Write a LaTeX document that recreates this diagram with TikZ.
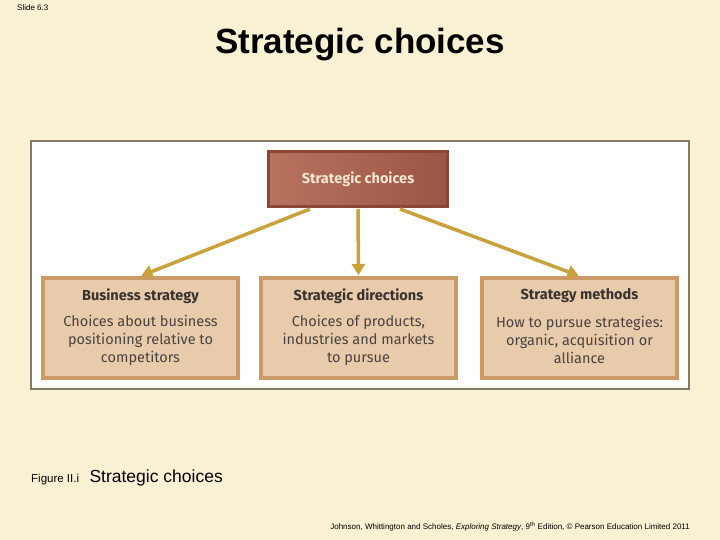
\documentclass[tikz,border=0pt]{standalone}
\usepackage{fontspec}
\setmainfont{Liberation Sans}
\newfontfamily\boxfont{Fira Sans}
\usetikzlibrary{positioning}
\usetikzlibrary{arrows.meta}
\definecolor{slidebg}{HTML}{F8F1D3}
\definecolor{panelline}{HTML}{857A68}
\definecolor{topleft}{HTML}{B8735F}
\definecolor{topright}{HTML}{9C5544}
\definecolor{topline}{HTML}{8C4636}
\definecolor{toptext}{HTML}{F6E6D2}
\definecolor{boxfill}{HTML}{E8CBAA}
\definecolor{boxline}{HTML}{CC9A66}
\definecolor{boxhead}{HTML}{3A3230}
\definecolor{boxtext}{HTML}{4A4240}
\definecolor{arrowcol}{HTML}{C9A23C}
\tikzstyle{topbox}=[draw=topline,left color=topleft,right color=topright,line width=3pt,minimum width=179pt,minimum height=55pt, inner sep=0pt, text=toptext, font=\boxfont\bfseries\fontsize{14.5}{17}\selectfont]
\tikzstyle{choice}=[draw=boxline,fill=boxfill,line width=4pt,minimum width=195pt,minimum height=100pt, inner sep=0pt]
\tikzstyle{head}=[text=boxhead, font=\boxfont\bfseries\fontsize{14.5}{17}\selectfont]
\tikzstyle{body}=[text=boxtext, align=center, font=\boxfont\fontsize{14.5}{18}\selectfont]
\tikzstyle{arr}=[arrowcol, line width=3.5pt, -{Triangle[length=11pt,width=13pt]}, shorten >=1pt]

\begin{document}
\begin{tikzpicture}[x=1pt,y=-1pt]
      \fill [slidebg] (0,0) rectangle (720,540);
      \useasboundingbox (0,0) rectangle (720,540);
      \node [anchor=west, inner sep=0pt, font=\fontsize{8}{9}\selectfont] (slide) at (17,8) {Slide 6.3};
      \node [font=\bfseries\fontsize{35}{40}\selectfont] (title) at (360,45) {Strategic choices};
      % white panel
      \draw [panelline, fill=white, line width=1.5pt] (31,141) rectangle (689,389);
      \node [topbox] (top) at (358,179) {Strategic choices};
      \node [choice] (biz) at (140.5,328) {};
      \node [choice] (dir) at (358.5,328) {};
      \node [choice] (meth) at (579.5,328) {};
      \node [head] at (140.5,296) {Business strategy};
      \node [body] at (140.5,340) {Choices about business\\positioning relative to\\competitors};
      \node [head] at (358.5,296) {Strategic directions};
      \node [body] at (358.5,340) {Choices of products,\\industries and markets\\to pursue};
      \node [head] at (579.5,296) {Strategy methods};
      \node [body] at (579.5,340) {How to pursue strategies:\\organic, acquisition or\\alliance};
      \draw [arr] ([xshift=-48pt,yshift=-1pt]top.south) -- (biz.north);
      \draw [arr] ([yshift=-1pt]top.south) -- (dir.north);
      \draw [arr] ([xshift=42pt,yshift=-1pt]top.south) -- (meth.north);
      % caption and source
      \node [anchor=base west, inner sep=0pt, font=\fontsize{11.5}{13}\selectfont] (fig) at (31,482) {Figure II.i};
      \node [inner sep=0pt, font=\fontsize{17.5}{20}\selectfont, right=10pt of fig.base east, anchor=base west] (cap) {Strategic choices};
      \node [anchor=base east, inner sep=0pt, font=\fontsize{8}{9}\selectfont] (src) at (690,529) {Johnson, Whittington and Scholes, \textit{Exploring Strategy}, 9\textsuperscript{th} Edition, \copyright{} Pearson Education Limited 2011};
    \end{tikzpicture}
\end{document}
